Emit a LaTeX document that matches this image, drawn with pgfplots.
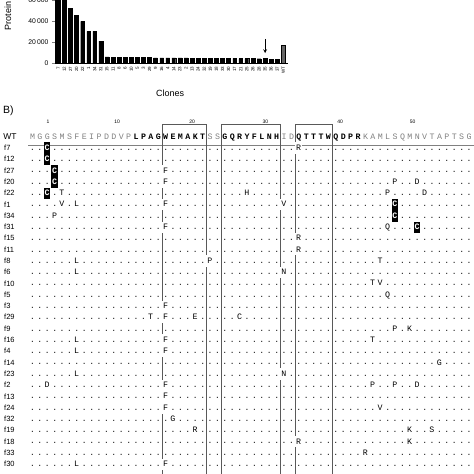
\documentclass[border=0pt]{standalone}
\usepackage{pgfplots}
\usepackage{pgfplotstable}
\pgfplotsset{compat=1.18}
\usepackage{fontspec}
\setmainfont{Liberation Sans}
\newfontfamily\seqfont{Liberation Mono}
\definecolor{dotgray}{gray}{0.2}
\definecolor{wtgray}{gray}{0.5}
\definecolor{boxgray}{gray}{0.35}

\newlength\colw \setlength\colw{7.4bp}
\makeatletter
\newcommand\seqrule{\rule[-3.3bp]{0pt}{11.3bp}}
\newcommand\mutch[1]{%
  \ifnum`#1=\lccode`#1\relax
    {\setlength\fboxsep{0pt}\colorbox{black}{\makebox[6.6bp][c]{\seqrule\textcolor{white}{\bfseries\uppercase{#1}}}}}%
  \else
    {\setlength\fboxsep{0pt}\colorbox{white}{\makebox[\colw][c]{\seqrule #1}}}%
  \fi}
\newcommand\wtch[1]{%
  \ifnum`#1=\lccode`#1\relax
    \makebox[\colw][c]{\textcolor{wtgray}{\uppercase{#1}}}%
  \else
    \makebox[\colw][c]{\bfseries #1}%
  \fi}
\def\wtloop#1{\ifx\relax#1\else\wtch{#1}\expandafter\wtloop\fi}
\newcommand\wtrow[1]{\wtloop#1\relax}
\newcommand\dotrow{{\bfseries\count@=0 \loop\makebox[\colw][c]{.}\advance\count@ by 1 \ifnum\count@<60 \repeat}}
\makeatother

\pgfplotstableread{
r lab
1 f7
2 f12
3 f27
4 f20
5 f22
6 f1
7 f34
8 f31
9 f15
10 f11
11 f8
12 f6
13 f10
14 f5
15 f3
16 f29
17 f9
18 f16
19 f4
20 f14
21 f23
22 f2
23 f13
24 f24
25 f32
26 f19
27 f18
28 f33
29 f30
}\rowtab

\pgfplotstableread{
c r m
3 1 c
37 1 R
3 2 c
4 3 c
19 3 F
4 4 c
19 4 F
50 4 P
53 4 D
3 5 c
5 5 T
30 5 H
49 5 P
54 5 D
5 6 V
7 6 L
19 6 F
35 6 V
50 6 c
4 7 P
50 7 c
19 8 F
49 8 Q
53 8 c
37 9 R
37 10 R
7 11 L
25 11 P
48 11 T
7 12 L
35 12 N
47 13 T
48 13 V
49 14 Q
19 15 F
17 16 T
19 16 F
23 16 E
29 16 C
50 17 P
52 17 K
7 18 L
19 18 F
47 18 T
7 19 L
19 19 F
56 20 G
7 21 L
35 21 N
3 22 D
19 22 F
47 22 P
50 22 P
53 22 D
19 23 F
19 24 F
48 24 V
20 25 G
23 26 R
52 26 K
55 26 S
37 27 R
52 27 K
46 28 R
7 29 L
19 29 F
}\muttab

\pgfplotstableread{
x y lab
3.12 1.30 1
12.45 1.30 10
22.6 1.30 20
32.5 1.30 30
42.6 1.30 40
52.4 1.30 50
}\numtab

\begin{document}
\begin{tikzpicture}
% ---------------- bar chart (panel A, cropped) ----------------
\begin{axis}[
  at={(55bp,410.7bp)}, anchor=south west, scale only axis,
  width=233bp, height=84.8bp,
  xmin=0.46, xmax=38.77, ymin=0, ymax=80000,
  axis x line*=bottom, axis y line*=left,
  axis line style={line width=0.9bp},
  ytick={0,20000,40000,60000,80000},
  scaled y ticks=false,
  yticklabel style={font=\fontsize{6.8bp}{7bp}\selectfont, /pgf/number format/.cd, 1000 sep={\,}, assume math mode=true},
  xtick={1,...,38},
  xticklabels={7,12,27,20,22,1,34,31,15,11,8,6,10,5,3,29,9,16,4,14,23,2,13,24,32,19,18,33,30,17,21,25,26,28,35,36,37,WT},
  x tick label style={rotate=90, anchor=east, font=\fontsize{4.5bp}{5bp}\selectfont, inner sep=0.5pt},
  major x tick style={draw=none},
  tick align=outside, major tick length=3bp,
  ylabel={Protein},
  ylabel style={at={(axis description cs:-0.2017,0.35)}, anchor=west, font=\fontsize{9bp}{10bp}\selectfont},
  xlabel={Clones},
  xlabel style={at={(axis description cs:0.494,-0.35)}, anchor=center, font=\fontsize{9bp}{10bp}\selectfont},
  clip=false,
]
\addplot[ybar, bar width=3.8bp, bar shift=0pt, fill=black, draw=black] coordinates {
(1,72000) (2,64000) (3,52000) (4,45000) (5,39500) (6,30000) (7,30000) (8,21000)
(9,6000) (10,5900) (11,5800) (12,5600) (13,5500) (14,5400) (15,5400) (16,5300)
(17,5200) (18,5200) (19,5100) (20,5100) (21,5000) (22,5000) (23,4900) (24,4900)
(25,4800) (26,4800) (27,4700) (28,4700) (29,4600) (30,4600) (31,4500) (32,4500)
(33,4400) (34,4300) (35,4800) (36,3800) (37,3800)};
\addplot[ybar, bar width=3.8bp, bar shift=0pt, fill=black!60, draw=black] coordinates {(38,17000)};
\draw[-stealth, line width=0.7bp] (axis cs:35,23000) -- (axis cs:35,9600);
\end{axis}

% ---------------- alignment (panel B) ----------------
\begin{axis}[
  at={(0bp,0bp)}, anchor=south west, scale only axis,
  width=474bp, height=379bp,
  xmin=-3.365, xmax=60.69, ymin=-29.87, ymax=3.69,
  hide axis, clip=false,
]
% dotted rows
\addplot[draw=none, mark=none, nodes near coords={\dotrow},
  every node near coord/.append style={anchor=base west, inner sep=0pt, yshift=-2.4bp, font=\seqfont\fontsize{8bp}{8bp}\selectfont, text=dotgray}]
  table[x expr=0.5, y expr=-\thisrow{r}] {\rowtab};
% row labels
\addplot[draw=none, mark=none, point meta=explicit symbolic, nodes near coords={\pgfplotspointmeta},
  every node near coord/.append style={anchor=base west, inner sep=0pt, yshift=-2.6bp, font=\fontsize{7.5bp}{7.5bp}\selectfont}]
  table[x expr=-2.82, y expr=-\thisrow{r}, meta=lab] {\rowtab};
% substitutions
\addplot[draw=none, mark=none, point meta=explicit symbolic,
  nodes near coords={\edef\tmpm{\pgfplotspointmeta}\expandafter\mutch\expandafter{\tmpm}},
  every node near coord/.append style={anchor=base, inner sep=0pt, yshift=-2.5bp, font=\seqfont\fontsize{8.3bp}{8.3bp}\selectfont}]
  table[x=c, y expr=-\thisrow{r}, meta=m] {\muttab};
% WT sequence
\addplot[draw=none, mark=none, nodes near coords={\wtrow{mggsmsfeipddvpLPAGWEMAKTssGQRYFLNHidQTTTWQDPRkamlsqmnvtaptsg}},
  every node near coord/.append style={anchor=base west, inner sep=0pt, yshift=-2.5bp, font=\seqfont\fontsize{8.3bp}{8.3bp}\selectfont}]
  coordinates {(0.5,0)};
\addplot[draw=none, mark=none, nodes near coords={WT},
  every node near coord/.append style={anchor=base west, inner sep=0pt, yshift=-2.9bp, font=\fontsize{8.5bp}{8.5bp}\selectfont}]
  coordinates {(-2.95,0)};
% position numbers
\addplot[draw=none, mark=none, point meta=explicit symbolic, nodes near coords={\pgfplotspointmeta},
  every node near coord/.append style={anchor=base, inner sep=0pt, yshift=-1.8bp, font=\fontsize{5bp}{5bp}\selectfont}]
  table[x=x, y=y, meta=lab] {\numtab};
% panel letter
\addplot[draw=none, mark=none, nodes near coords={B)},
  every node near coord/.append style={anchor=base west, inner sep=0pt, yshift=-3.7bp, font=\fontsize{10.5bp}{10.5bp}\selectfont}]
  coordinates {(-2.96,2.36)};
% line under WT
\addplot[draw=gray, line width=0.8bp, mark=none] coordinates {(0.42,-0.735) (60.69,-0.735)};
% boxes
\addplot[draw=boxgray, line width=1bp, mark=none] coordinates {(18.6,-31) (18.6,1.1) (24.6,1.1) (24.6,-31)};
\addplot[draw=boxgray, line width=1bp, mark=none] coordinates {(26.6,-31) (26.6,1.1) (34.6,1.1) (34.6,-31)};
\addplot[draw=boxgray, line width=1bp, mark=none] coordinates {(36.6,-31) (36.6,1.1) (41.6,1.1) (41.6,-31)};
\end{axis}
\pgfresetboundingbox
\useasboundingbox (0,0) rectangle (474bp,474bp);
\end{tikzpicture}
\end{document}
